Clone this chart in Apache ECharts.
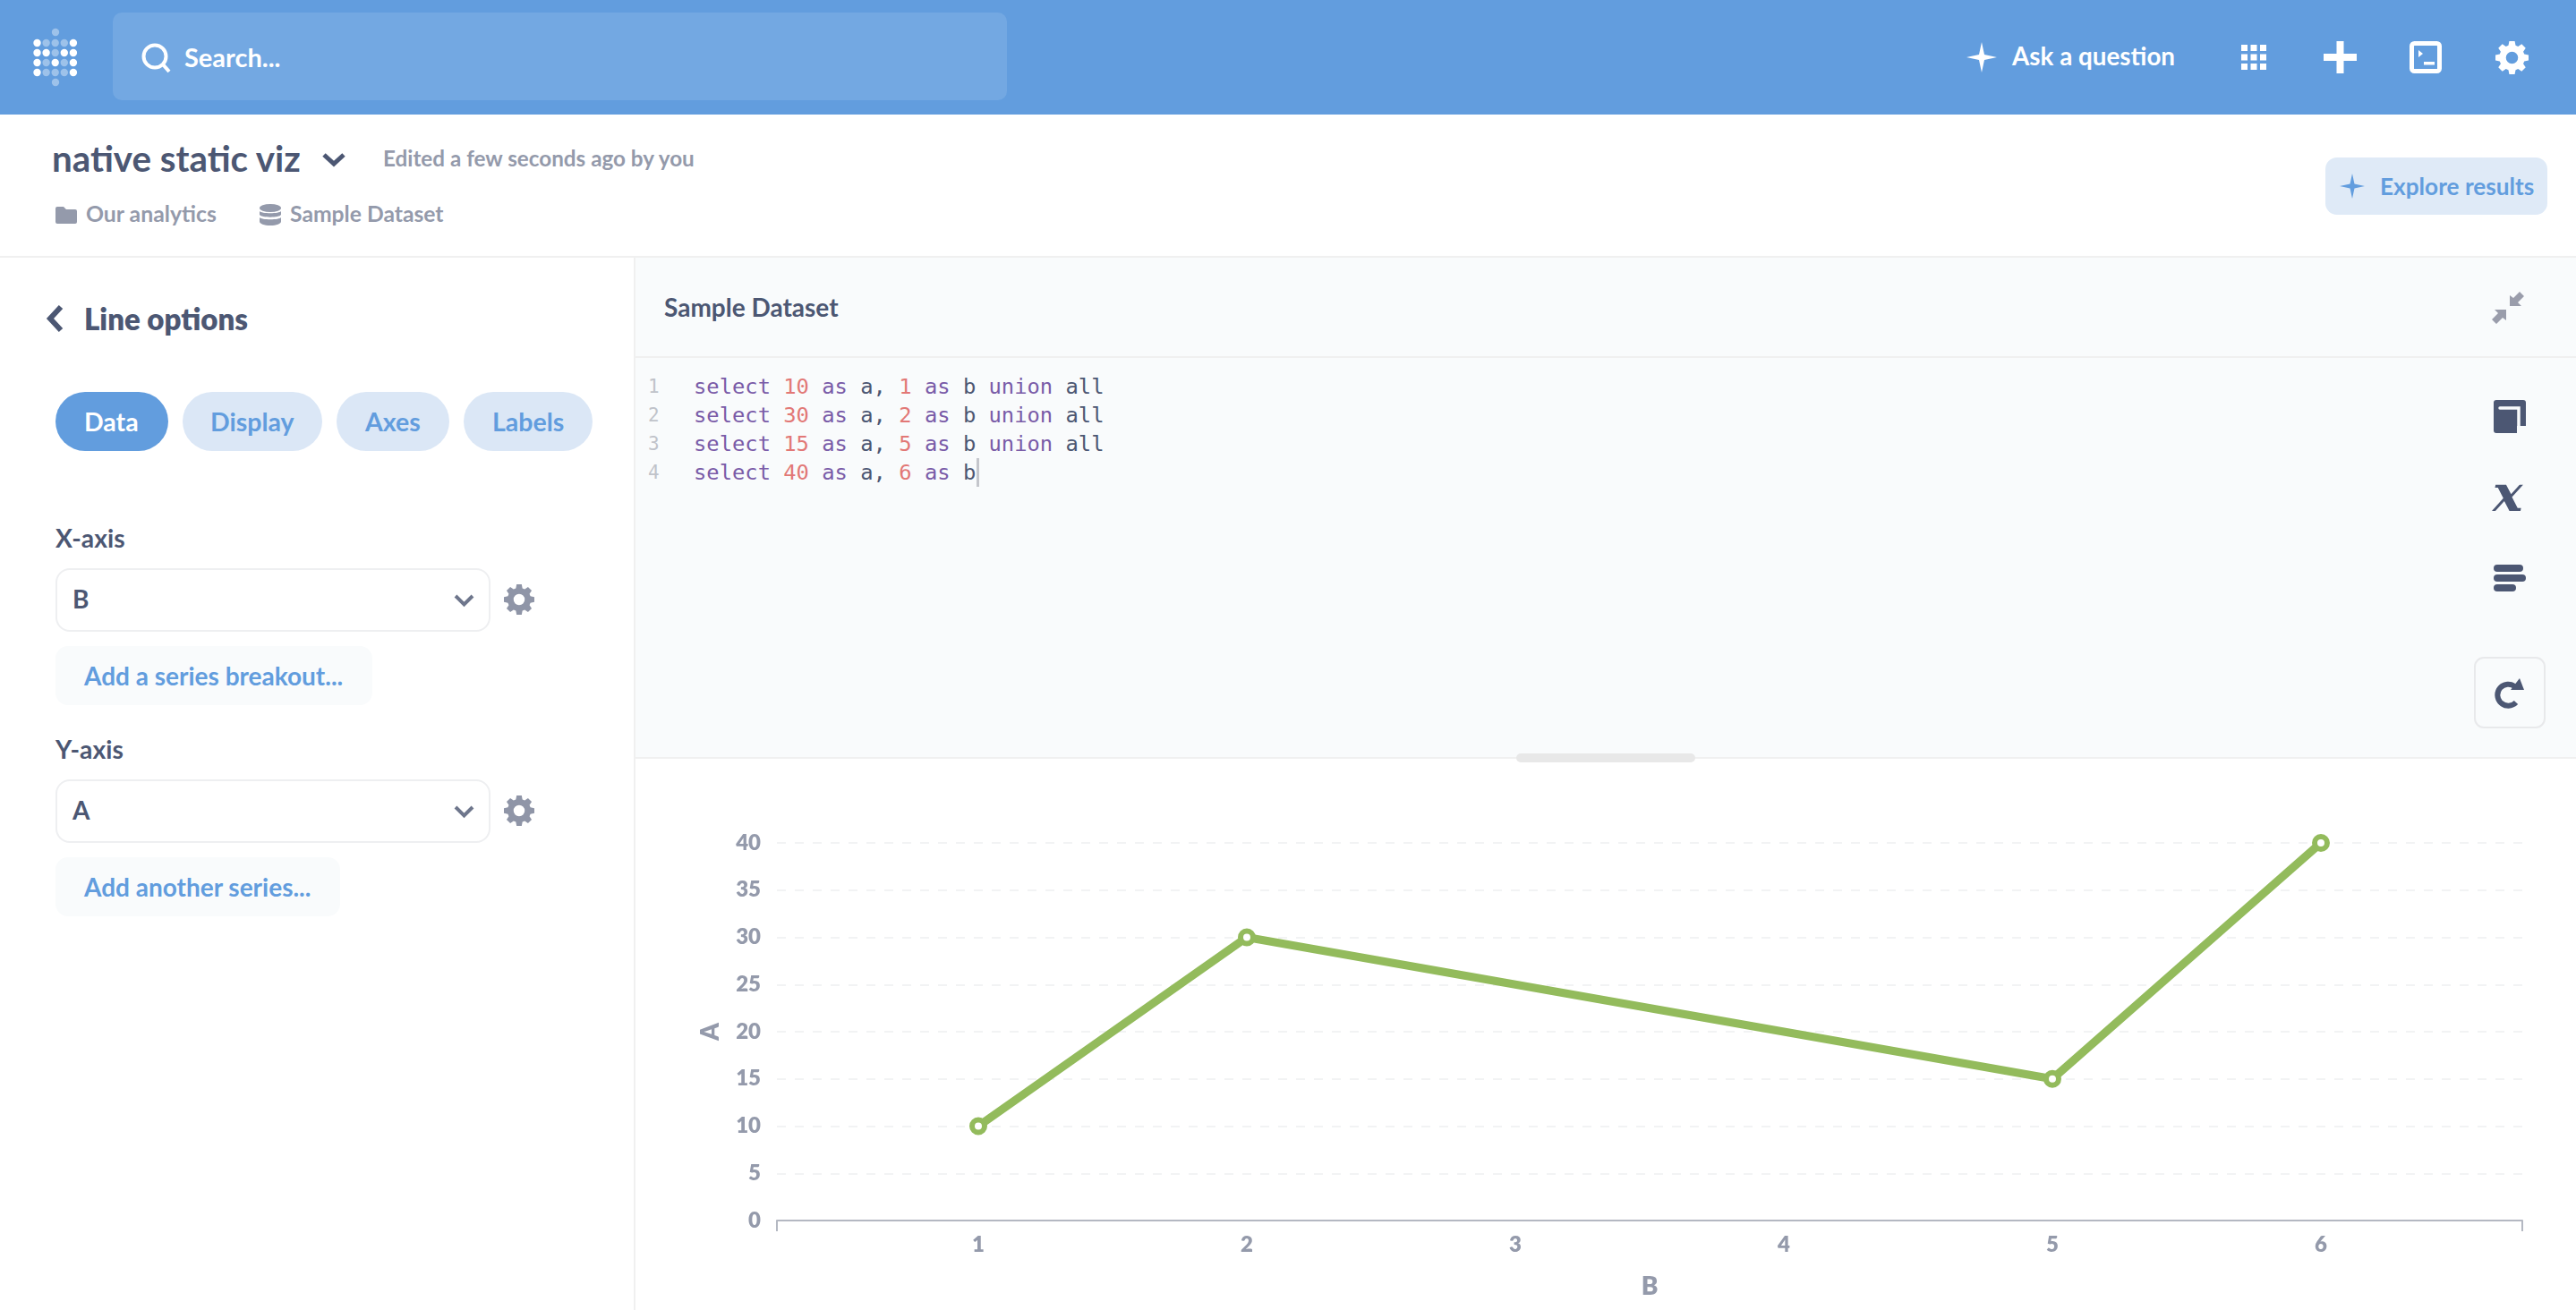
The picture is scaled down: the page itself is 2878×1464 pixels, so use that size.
<!DOCTYPE html>
<html><head><meta charset="utf-8">
<script src="https://cdn.jsdelivr.net/npm/echarts@6/dist/echarts.min.js"></script>
<style>
html,body{margin:0;padding:0;width:2878px;height:1464px;overflow:hidden;background:#fff;font-family:Lato,sans-serif;color:#4C5773}
.a{position:absolute;white-space:nowrap}
.t{position:absolute;white-space:nowrap;line-height:1;transform:translateY(-50%);font-weight:700}
svg{position:absolute;overflow:visible}
.code{position:absolute;left:775px;font:23.8px/32px "DejaVu Sans Mono",monospace;white-space:pre;transform:translateY(-50%)}
.k{color:#7A5CA8}.n{color:#E27876}.g{position:absolute;left:724px;font:21px "DejaVu Sans Mono",monospace;color:#C0C3CA;transform:translateY(-50%)}
</style></head><body>

<div class="a" style="left:0;top:0;width:2878px;height:128px;background:#629DDE"></div>
<div class="a" style="left:126px;top:14px;width:999px;height:98px;border-radius:10px;background:#73A8E2"></div>
<svg id="logo" style="left:0;top:0" width="110" height="128"></svg>
<svg style="left:158px;top:48px" width="34" height="34" viewBox="0 0 34 34" fill="none" stroke="#fff" stroke-width="4"><circle cx="15" cy="15" r="12.5"/><path d="M24 24l7 8"/></svg>
<div class="t" style="left:206px;top:63px;font-size:29px;color:#fff;font-weight:700">Search...</div>

<svg style="left:2197px;top:47px" width="34" height="34" viewBox="0 0 34 34" fill="#fff"><path d="M17 0L20 14L34 17L20 20L17 34L14 20L0 17L14 14Z"/></svg>
<div class="t" style="left:2248px;top:63px;font-size:27.8px;color:#fff;font-weight:700">Ask a question</div>
<svg style="left:2504px;top:50px" width="28" height="28" fill="#fff"><rect width="7" height="7"/><rect x="10.5" width="7" height="7"/><rect x="21" width="7" height="7"/><rect y="10.5" width="7" height="7"/><rect x="10.5" y="10.5" width="7" height="7"/><rect x="21" y="10.5" width="7" height="7"/><rect y="21" width="7" height="7"/><rect x="10.5" y="21" width="7" height="7"/><rect x="21" y="21" width="7" height="7"/></svg>
<svg style="left:2596px;top:46px" width="37" height="36" fill="#fff"><rect x="14.5" width="8" height="36"/><rect y="14" width="37" height="8"/></svg>
<svg style="left:2692px;top:46px" width="36" height="36"><rect x="2.5" y="2.5" width="31" height="31" rx="3" fill="none" stroke="#fff" stroke-width="5"/><path d="M10 10l5 4-5 4z" fill="#fff"/><rect x="16" y="23" width="12" height="3.5" fill="#fff"/></svg>
<svg style="left:2788px;top:46px" width="37" height="37" viewBox="0 0 24 24"><path fill="#fff" fill-rule="evenodd" d="M10 0h4l.6 3.1 1.8.75L19 2.1 21.9 5l-1.75 2.6.75 1.8L24 10v4l-3.1.6-.75 1.8 1.75 2.6L19 21.9l-2.6-1.75-1.8.75L14 24h-4l-.6-3.1-1.8-.75L5 21.9 2.1 19l1.75-2.6-.75-1.8L0 14v-4l3.1-.6.75-1.8L2.1 5 5 2.1l2.6 1.75 1.8-.75zM12 7.6a4.4 4.4 0 100 8.8 4.4 4.4 0 000-8.8z"/></svg>

<div class="t" style="left:58px;top:177px;font-size:40.3px;font-weight:700">native static viz</div>
<svg style="left:360px;top:171px" width="26" height="16" fill="none" stroke="#4C5773" stroke-width="5"><path d="M2 2l11 10L24 2"/></svg>
<div class="t" style="left:428px;top:177px;font-size:24.25px;color:#949AAB">Edited a few seconds ago by you</div>
<svg style="left:62px;top:231px" width="24" height="19" fill="#949AAB"><path d="M0 2a2 2 0 012-2h7l3 3h10a2 2 0 012 2v12a2 2 0 01-2 2H2a2 2 0 01-2-2z"/></svg>
<div class="t" style="left:96px;top:239px;font-size:24.8px;color:#949AAB">Our analytics</div>
<svg style="left:290px;top:228px" width="24" height="24" fill="#949AAB"><ellipse cx="12" cy="4.5" rx="12" ry="4.5"/><path d="M0 8c2 3 22 3 24 0v4c-2 3.500-22 3.500-24 0zM0 15c2 3 22 3 24 0v4.500c0 2.500-5 4.500-12 4.500S0 22 0 19.500z"/></svg>
<div class="t" style="left:324px;top:239px;font-size:24.7px;color:#949AAB">Sample Dataset</div>

<div class="a" style="left:2598px;top:176px;width:248px;height:64px;border-radius:13px;background:#DFEAF7"></div>
<svg style="left:2614px;top:194px" width="28" height="28" viewBox="0 0 34 34" fill="#629DDE"><path d="M17 0L20 14L34 17L20 20L17 34L14 20L0 17L14 14Z"/></svg>
<div class="t" style="left:2659px;top:208px;font-size:26.2px;color:#629DDE">Explore results</div>

<div class="a" style="left:0;top:286px;width:2878px;height:2px;background:#F0F0F0"></div>
<div class="a" style="left:709px;top:288px;width:2169px;height:558px;background:#F9FBFC"></div>
<div class="a" style="left:709px;top:398px;width:2169px;height:2px;background:#F0F0F0"></div>
<div class="a" style="left:709px;top:846px;width:2169px;height:2px;background:#F0F0F0"></div>
<div class="a" style="left:708px;top:288px;width:2px;height:1176px;background:#F0F0F0"></div>
<div class="a" style="left:1694px;top:842px;width:200px;height:10px;border-radius:5px;background:#E8E8E8"></div>

<div class="t" style="left:742px;top:343px;font-size:28px">Sample Dataset</div>
<svg style="left:2784px;top:326px" width="36" height="36" fill="#9A9DAB"><path d="M20 16V4l4 3 7-7 5 5-7 7 4 4zM16 20v12l-4-3-7 7-5-5 7-7-4-4z"/></svg>

<div id="codewrap"></div>
<div class="a" style="left:1091px;top:512px;width:3px;height:32px;background:#C4C6CC"></div>

<svg style="left:2786px;top:447px" width="36" height="37"><path d="M3 0h30a3 3 0 013 3v26H26v8H3a3 3 0 01-3-3V3a3 3 0 013-3z" fill="#4C5773"/><path d="M7 9H28V37" fill="none" stroke="#F9FBFC" stroke-width="3.5" stroke-linecap="round"/></svg>
<div class="a" style="left:2785px;top:523px;font:italic 700 56px/56px 'DejaVu Serif',serif;color:#4C5773">x</div>
<svg style="left:2786px;top:631px" width="36" height="30" fill="#4C5773"><rect x="0" y="0" width="33" height="8" rx="4"/><rect x="0" y="11" width="36" height="8" rx="4"/><rect x="0" y="22" width="25" height="8" rx="4"/></svg>
<div class="a" style="left:2764px;top:734px;width:76px;height:76px;border:2px solid #E8E9EB;border-radius:11px"></div>
<svg style="left:2788px;top:758px" width="32" height="32" fill="none"><path d="M22 9.500A12 12 0 1 0 23 27" stroke="#4C5773" stroke-width="6"/><path d="M17 13h15L27 0z" fill="#4C5773"/></svg>

<svg style="left:52px;top:341px" width="20" height="30" fill="none" stroke="#4C5773" stroke-width="6"><path d="M16 2L4 15l12 13"/></svg>
<div class="t" style="left:94px;top:356px;font-size:33px;font-weight:800">Line options</div>
<div class="a" style="left:62px;top:438px;width:126px;height:66px;border-radius:33px;background:#629DDE"></div>
<div class="a" style="left:204px;top:438px;width:156px;height:66px;border-radius:33px;background:#DBE7F6"></div>
<div class="a" style="left:376px;top:438px;width:126px;height:66px;border-radius:33px;background:#DBE7F6"></div>
<div class="a" style="left:518px;top:438px;width:144px;height:66px;border-radius:33px;background:#DBE7F6"></div>
<div class="t" style="left:94px;top:471px;font-size:28.5px;color:#fff">Data</div>
<div class="t" style="left:235px;top:471px;font-size:28.5px;color:#629DDE">Display</div>
<div class="t" style="left:408px;top:471px;font-size:28.5px;color:#629DDE">Axes</div>
<div class="t" style="left:550px;top:471px;font-size:28.5px;color:#629DDE">Labels</div>

<div class="t" style="left:62px;top:601px;font-size:28.3px;">X-axis</div>
<div class="a" style="left:62px;top:635px;width:482px;height:67px;border:2px solid #EEEFF1;border-radius:16px"></div>
<div class="t" style="left:81px;top:669px;font-size:28px;">B</div>
<svg style="left:507px;top:664px" width="23" height="14" fill="none" stroke="#6E768C" stroke-width="4"><path d="M2 2l9.500 9.500L21 2"/></svg>
<svg style="left:563px;top:653px" width="34" height="34" viewBox="0 0 24 24" fill="#8F95A7"><path fill-rule="evenodd" d="M10 0h4l.6 3.1 1.8.75L19 2.1 21.9 5l-1.75 2.6.75 1.8L24 10v4l-3.1.6-.75 1.8 1.75 2.6L19 21.9l-2.6-1.75-1.8.75L14 24h-4l-.6-3.1-1.8-.75L5 21.9 2.1 19l1.75-2.6-.75-1.8L0 14v-4l3.1-.6.75-1.8L2.1 5 5 2.1l2.6 1.75 1.8-.75zM12 7.6a4.4 4.4 0 100 8.8 4.4 4.4 0 000-8.8z"/></svg>
<div class="a" style="left:62px;top:722px;width:354px;height:66px;border-radius:14px;background:#F9FBFC"></div>
<div class="t" style="left:94px;top:755px;font-size:28px;color:#629DDE">Add a series breakout...</div>

<div class="t" style="left:62px;top:837px;font-size:28.3px;">Y-axis</div>
<div class="a" style="left:62px;top:871px;width:482px;height:67px;border:2px solid #EEEFF1;border-radius:16px"></div>
<div class="t" style="left:81px;top:905px;font-size:28px;">A</div>
<svg style="left:507px;top:900px" width="23" height="14" fill="none" stroke="#6E768C" stroke-width="4"><path d="M2 2l9.500 9.500L21 2"/></svg>
<svg style="left:563px;top:889px" width="34" height="34" viewBox="0 0 24 24" fill="#8F95A7"><path fill-rule="evenodd" d="M10 0h4l.6 3.1 1.8.75L19 2.1 21.9 5l-1.75 2.6.75 1.8L24 10v4l-3.1.6-.75 1.8 1.75 2.6L19 21.9l-2.6-1.75-1.8.75L14 24h-4l-.6-3.1-1.8-.75L5 21.9 2.1 19l1.75-2.6-.75-1.8L0 14v-4l3.1-.6.75-1.8L2.1 5 5 2.1l2.6 1.75 1.8-.75zM12 7.6a4.4 4.4 0 100 8.8 4.4 4.4 0 000-8.8z"/></svg>
<div class="a" style="left:62px;top:958px;width:318px;height:66px;border-radius:14px;background:#F9FBFC"></div>
<div class="t" style="left:94px;top:991px;font-size:28px;color:#629DDE">Add another series...</div>

<div id="chart" style="position:absolute;left:710px;top:849px;width:2168px;height:615px"></div>

<script>
// Chart data
var xName = 'B';
var yName = 'A';
var bValues = [1, 2, 5, 6];
var aValues = [10, 30, 15, 40];
var xTickLabels = [1, 2, 3, 4, 5, 6];

// Decorative page text
var sqlA = ['10', '30', '15', '40'];
var sqlB = ['1', '2', '5', '6'];

var logoRows = [[1,0,0,0,1],[1,1,0,1,1],[1,0,1,0,1],[1,0,0,0,1]];
var logoSvg = '';
logoRows.forEach(function (r, i) {
  r.forEach(function (on, j) {
    logoSvg += '<circle cx="' + (41.5 + j * 10.1) + '" cy="' + (48 + i * 11) + '" r="4.2" fill="#fff" fill-opacity="' + (on ? 1 : 0.38) + '"/>';
  });
});
logoSvg += '<circle cx="62" cy="36" r="4.2" fill="#fff" fill-opacity=".38"/><circle cx="62" cy="92" r="4.2" fill="#fff" fill-opacity=".38"/>';
document.getElementById('logo').innerHTML = logoSvg;

var html = '';
sqlA.forEach(function (v, i) {
  var top = 432 + i * 32;
  var last = i === sqlA.length - 1;
  html += '<div class="g" style="top:' + top + 'px">' + (i + 1) + '</div>';
  html += '<div class="code" style="top:' + top + 'px"><span class="k">select</span> <span class="n">' + v +
    '</span> <span class="k">as</span> a, <span class="n">' + sqlB[i] + '</span> <span class="k">as</span> b' +
    (last ? '' : ' <span class="k">union</span> all') + '</div>';
});
document.getElementById('codewrap').innerHTML = html;

var chart = echarts.init(document.getElementById('chart'));
var axisText = { color: '#949AAB', fontFamily: 'Lato', fontWeight: 800, fontSize: 24 };
var nameText = { color: '#949AAB', fontFamily: 'Lato', fontWeight: 800, fontSize: 28 };
chart.setOption({
  animation: false,
  grid: { left: 158, right: 60, top: 93, bottom: 100, containLabel: false },
  xAxis: {
    type: 'value', min: 0.25, max: 6.75,
    name: xName, nameLocation: 'middle', nameGap: 60,
    nameTextStyle: nameText,
    axisLine: { show: true, lineStyle: { color: '#B4B8C2', width: 2 } },
    axisTick: { show: true, length: 12, customValues: [0.25, 6.75], lineStyle: { color: '#B4B8C2', width: 2 } },
    axisLabel: Object.assign({ customValues: xTickLabels, margin: 15 }, axisText),
    splitLine: { show: false }
  },
  yAxis: {
    type: 'value', min: 0, max: 40, interval: 5,
    name: yName, nameLocation: 'middle', nameRotate: 90, nameGap: 60,
    nameTextStyle: nameText,
    axisLine: { show: false }, axisTick: { show: false },
    axisLabel: Object.assign({ margin: 18 }, axisText),
    splitLine: { lineStyle: { color: '#F2F3F4', width: 2, type: [10, 10] } }
  },
  series: [{
    type: 'line',
    data: bValues.map(function (b, i) { return [b, aValues[i]]; }),
    lineStyle: { color: '#93BB5C', width: 9 },
    symbol: 'circle', symbolSize: 14,
    itemStyle: { color: '#fff', borderColor: '#93BB5C', borderWidth: 6 },
    showSymbol: true
  }]
});
</script>
</body></html>
